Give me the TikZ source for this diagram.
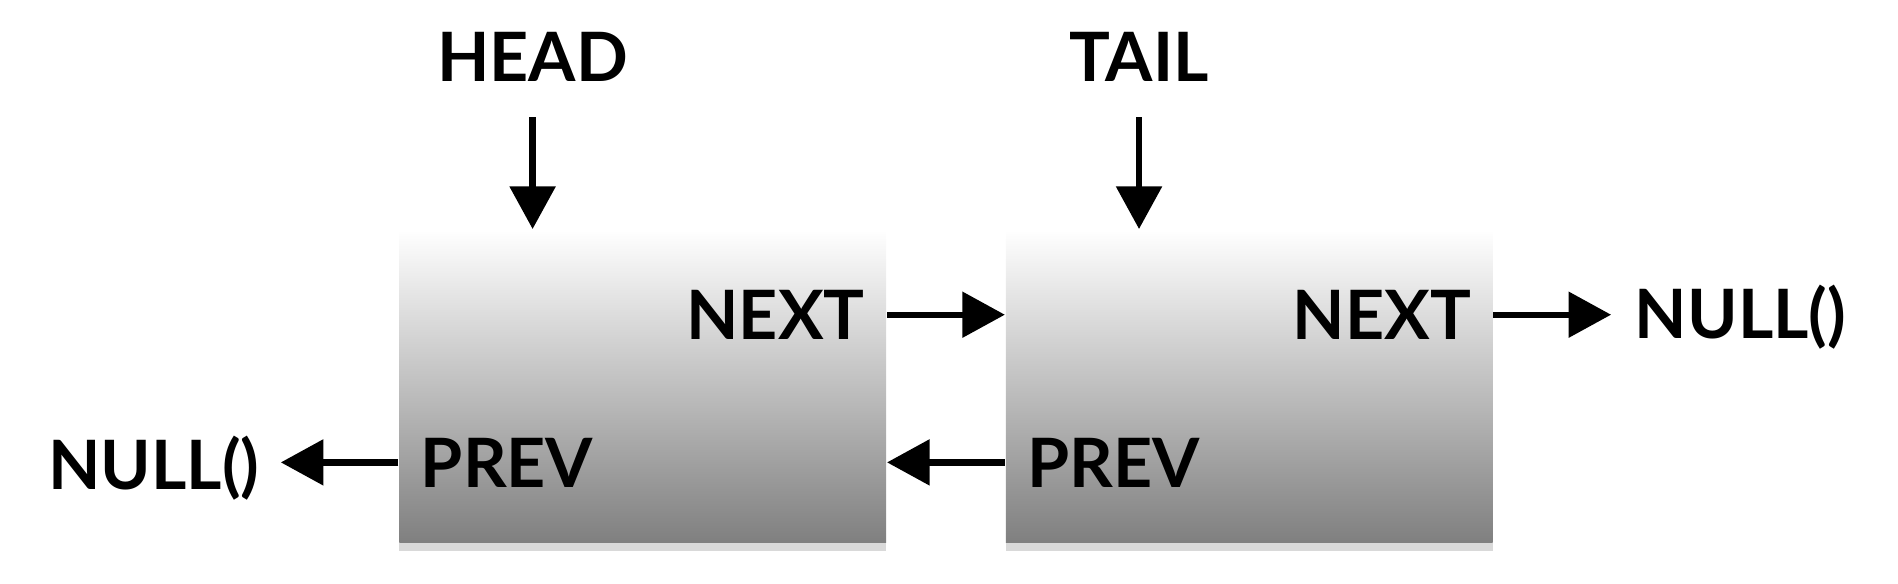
\documentclass[tikz,border=0pt]{standalone}
\usepackage{fontspec}
\setmainfont{Lato}
\usetikzlibrary{positioning,arrows.meta,shadows}

\begin{document}
\begin{tikzpicture}
            [x=0.01cm,y=-0.01cm,
            >={Triangle[width=10.5pt,length=10pt]},
            link/.style={->,line width=1.5pt},
            cell/.style={minimum width=4.02cm,minimum height=2.58cm,top color=white,bottom color=black!50,
                drop shadow={opacity=0.3,shadow xshift=0pt,shadow yshift=-2pt}},
            lbl/.style={font=\bfseries\fontsize{16}{18}\selectfont,inner sep=0pt}]
            \useasboundingbox (0,0) rectangle (1568,482);
            \node[cell] (first) at (531,319) {};
            \node[cell] (second) at (1032,319) {};
            \node[lbl] (head) at (440,47) {HEAD};
            \node[lbl] (tail) at (941,47) {TAIL};
            \node[lbl,anchor=east] (next1) at (715,260) {NEXT};
            \node[lbl,anchor=east] (next2) at (1216,260) {NEXT};
            \node[lbl,anchor=west] (prev1) at (347,382) {PREV};
            \node[lbl,anchor=west] (prev2) at (848,382) {PREV};
            \node[lbl,anchor=west] (nullr) at (1350,262) {NULL()};
            \node[lbl,anchor=east] (nulll) at (215,387) {NULL()};
            % pointers
            \coordinate (h) at (440,97);
            \coordinate (t) at (941,97);
            \coordinate (l) at (232,382);
            \coordinate (r) at (1331,260);
            \draw[link] (h) -- (first.north -| h);
            \draw[link] (t) -- (second.north -| t);
            \draw[link] (first.east |- next1) -- (second.west |- next1);
            \draw[link] (second.east |- r) -- (r);
            \draw[link] (second.west |- prev2) -- (first.east |- prev2);
            \draw[link] (first.west |- l) -- (l);
\end{tikzpicture}
\end{document}
